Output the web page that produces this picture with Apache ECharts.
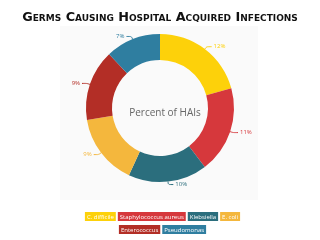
<!DOCTYPE html>
<html>
<head>
<meta charset="utf-8">
<script src="https://cdn.jsdelivr.net/npm/echarts@6/dist/echarts.min.js"></script>
<style>
  html, body { margin: 0; padding: 0; background: #fff; }
  #chart { width: 320px; height: 240px; }
</style>
</head>
<body>
<div id="chart"></div>
<script>
const germs = ["C. difficile", "Staphylococcus aureus", "Klebsiella", "E. coli", "Enterococcus", "Pseudomonas"];
const shares = [12, 11, 10, 9, 9, 7];
const colors = ["#fdd10a", "#d6383c", "#2b6e7d", "#f4b73d", "#b32e26", "#2f7ea0"];

const chart = echarts.init(document.getElementById("chart"));

const rich = {};
germs.forEach((g, i) => {
  rich["s" + i] = {
    backgroundColor: colors[i],
    color: "#fff",
    fontSize: 6,
    fontFamily: "Open Sans",
    padding: [2, 2, 1, 2],
  };
});
const legendBase = {
  left: "center",
  orient: "horizontal",
  icon: "none",
  itemWidth: 0,
  itemHeight: 0,
  itemGap: -3,
  textStyle: { rich: rich },
  formatter: (name) => `{s${germs.indexOf(name)}|${name}}`,
  selectedMode: false,
};

const option = {
  graphic: [
    {
      type: "rect",
      shape: { x: 60, y: 26, width: 198, height: 174 },
      style: { fill: "#fafafa" },
      z: -10,
    },
  ],
  title: [
    {
      text: "Germs Causing Hospital Acquired Infections",
      left: "center",
      top: 6,
      textStyle: {
        fontStyle: "small-caps",
        fontWeight: "bold",
        fontSize: 12.8,
        fontFamily: "DejaVu Sans",
        color: "#111",
      },
    },
    {
      text: "Percent of HAIs",
      left: 160,
      top: 108,
      textAlign: "center",
      textVerticalAlign: "middle",
      textStyle: {
        fontSize: 10,
        fontWeight: "normal",
        fontFamily: "Open Sans",
        color: "#666",
      },
    },
  ],
  legend: [
    Object.assign({}, legendBase, { top: 207, data: germs.slice(0, 4) }),
    Object.assign({}, legendBase, { top: 220, data: germs.slice(4) }),
  ],
  series: [
    {
      type: "pie",
      center: [160, 108],
      radius: [48, 74],
      startAngle: 90,
      clockwise: true,
      silent: true,
      data: germs.map((g, i) => ({
        name: g,
        value: shares[i],
        itemStyle: { color: colors[i] },
        label: { color: colors[i] },
        labelLine: { lineStyle: { color: colors[i] } },
      })),
      label: {
        formatter: "{c}%",
        fontSize: 6,
        fontFamily: "Open Sans",
        distanceToLabelLine: 2,
      },
      labelLine: { length: 3, length2: 5, smooth: 0.3, lineStyle: { width: 1 } },
    },
  ],
};

chart.setOption(option);
</script>
</body>
</html>
